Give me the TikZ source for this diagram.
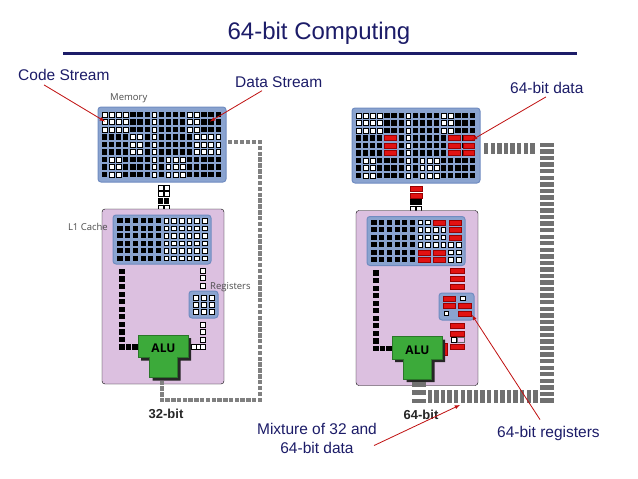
\documentclass[tikz,border=0pt]{standalone}
\usepackage{fontspec}
\setmainfont{Liberation Sans}
\newfontfamily\uifont{Open Sans}
\usepackage{tikz}
\usetikzlibrary{positioning, arrows}

\definecolor{navy}{RGB}{28,28,104}
\definecolor{membox}{RGB}{138,163,207}
\definecolor{memedge}{RGB}{112,140,193}
\definecolor{cpubox}{RGB}{220,192,224}
\definecolor{alugreen}{RGB}{60,170,58}
\definecolor{bitred}{RGB}{226,18,18}
\definecolor{busgray}{RGB}{128,128,128}
\definecolor{busdark}{RGB}{112,112,112}

% one bit cell, centred at (x,y)
\newcommand{\bitB}[2]{\fill[black] ({#1-2.6},{#2-2.6}) rectangle ++(5.2,5.2);}
\newcommand{\bitW}[2]{\filldraw[wbit] ({#1-2.3},{#2-2.3}) rectangle ++(4.6,4.6);}
\newcommand{\bitR}[3]{\filldraw[rbit] ({#1-#3/2},{#2-2.4}) rectangle ++(#3,4.8);}
\newcommand{\busB}[2]{\fill[busgray] ({#1-2.2},{#2-2.2}) rectangle ++(4.4,4.4);}

\begin{document}
\begin{tikzpicture}[x=1pt,y=-1pt,
  wbit/.style={draw=black, fill=white, line width=0.6pt},
  rbit/.style={draw=red!60!black, fill=bitred, line width=0.4pt},
  mem/.style={draw=memedge, fill=membox, line width=1pt, rounded corners=3pt},
  cpu/.style={fill=cpubox, rounded corners=3pt},
  alu/.style={draw=alugreen!70!black, fill=alugreen, line width=0.5pt},
  alushadow/.style={fill=black!85},
  alutext/.style={font=\uifont\bfseries\fontsize{12}{12}\selectfont},
  smalllabel/.style={font=\uifont\fontsize{9.5}{11}\selectfont, text=black!70, inner sep=0pt},
  label/.style={font=\fontsize{15.5}{19}\selectfont, text=navy, inner sep=0pt, align=center},
  bitslabel/.style={font=\bfseries\fontsize{13}{13}\selectfont, text=black!85, inner sep=0pt},
  redarrow/.style={draw=bitred!85!black, line width=0.8pt, -latex}]

\useasboundingbox (0,0) rectangle (638,479);
\fill[white] (0,0) rectangle (638,479);

% title
\node[font=\fontsize{24}{28}\selectfont, text=navy] (title) at (319,33) {64-bit Computing};
\draw[navy, line width=3pt] (63,53) -- (577,53);

%%% 32-bit side %%%
\node[smalllabel, anchor=west] (memlabel) at (110,98) {Memory};
\draw[mem] (98,107) rectangle (226,182);
\begin{scope}[shift={(98,107)}]
\foreach \r in {0,...,8} {\foreach \c in {0,...,16} {\bitB{6.5+7.1*\c}{7.5+7.5*\r}}}
\foreach \r in {0,1,2} {\foreach \c in {0,1,2,3,7,12,13} {\bitW{6.5+7.1*\c}{7.5+7.5*\r}}}
\foreach \r in {3,4,5} {\foreach \c in {4,5,7,13,14,15,16} {\bitW{6.5+7.1*\c}{7.5+7.5*\r}}}
\foreach \r in {6,7,8} {\foreach \c in {1,2,7,9,10,11} {\bitW{6.5+7.1*\c}{7.5+7.5*\r}}}
\end{scope}

% memory to cache
\foreach \x in {160.5,166.5} {
  \bitW{\x}{187.5} \bitW{\x}{194} \bitB{\x}{201} \bitW{\x}{207.5}
}

% processor
\draw[cpu] (102,209) rectangle (224,384);
\node[smalllabel, anchor=east] (cachelabel) at (108,226.5) {L1 Cache};
\draw[mem] (113,215) rectangle (211,264);
\begin{scope}[shift={(113,215)}]
\foreach \r in {0,...,5} {
  \foreach \c in {0,...,5} {\bitB{7+7.7*\c}{5.8+7.5*\r}}
  \foreach \c in {6,...,11} {\bitW{7+7.7*\c}{5.8+7.5*\r}}
}
\end{scope}

% code path
\foreach \i in {0,...,10} {\bitB{122}{271.5+7.55*\i}}
\bitB{128.5}{347} \bitB{135}{347}

% data path and registers
\foreach \y in {271,278,285.5,325,332,339.5,347} {\bitW{203}{\y}}
\bitW{193.5}{347} \bitW{198.3}{347}
\node[smalllabel, anchor=west] (reglabel) at (210,287.5) {Registers};
\draw[mem] (189,291) rectangle (218,318);
\foreach \x in {195.5,203.5,211.5} {\foreach \y in {297.5,304.5,311.5} {\bitW{\x}{\y}}}

% ALU
\begin{scope}[shift={(3,3)}]
\fill[alushadow] (138,335) -- (188,335) -- (188,357.5) -- (177.5,357.5) -- (177.5,377.5)
  -- (149.5,377.5) -- (149.5,357.5) -- (138,357.5) -- cycle;
\end{scope}
\filldraw[alu] (138,335) -- (188,335) -- (188,357.5) -- (177.5,357.5) -- (177.5,377.5)
  -- (149.5,377.5) -- (149.5,357.5) -- (138,357.5) -- cycle;
\node[alutext] (alu32) at (163.5,348.5) {ALU};

% memory bus
\foreach \x in {230,236,242,248,254} {\busB{\x}{142}}
\foreach \i in {0,...,44} {\busB{260}{142+5.86*\i}}
\foreach \i in {1,...,17} {\busB{260-5.78*\i}{400}}
\foreach \i in {1,2,3} {\busB{161.7}{400-5.7*\i}}

\node[bitslabel] (bits32) at (166,414) {32-bit};

%%% 64-bit side %%%
\draw[mem] (352,108) rectangle (480,183);
\begin{scope}[shift={(352,108)}]
\foreach \r in {0,...,8} {\foreach \c in {0,...,16} {\bitB{6.5+7.1*\c}{7.5+7.5*\r}}}
\foreach \r in {0,1,2} {\foreach \c in {0,1,2,3,7,12,13} {\bitW{6.5+7.1*\c}{7.5+7.5*\r}}}
\foreach \r in {3,4,5} {
  \bitW{6.5+7.1*7}{7.5+7.5*\r}
  \foreach \c in {4.5,13.5,15.5} {\bitR{6.5+7.1*\c}{7.5+7.5*\r}{11.6}}
}
\foreach \r in {6,7,8} {\foreach \c in {1,2,7,9,10,11} {\bitW{6.5+7.1*\c}{7.5+7.5*\r}}}
\end{scope}

% memory to cache
\bitR{416}{188.5}{12} \bitR{416}{195.5}{12}
\foreach \x in {413,419} {\bitB{\x}{202} \bitW{\x}{208.5}}

% processor
\draw[cpu] (356,210.5) rectangle (478,385.5);
\draw[mem] (367,216.5) rectangle (465,265.5);
\begin{scope}[shift={(367,216.5)}]
\foreach \r in {0,...,5} {\foreach \c in {0,...,5} {\bitB{7+7.7*\c}{5.8+7.5*\r}}}
\foreach \c in {6,7} {\bitW{7+7.7*\c}{5.8}}
\bitR{7+7.7*8.5}{5.8}{12} \bitR{7+7.7*10.5}{5.8}{12}
\foreach \r in {1,2} {
  \foreach \c in {6,...,9} {\bitW{7+7.7*\c}{5.8+7.5*\r}}
  \bitR{7+7.7*10.5}{5.8+7.5*\r}{12}
}
\foreach \c in {6,...,11} {\bitW{7+7.7*\c}{5.8+7.5*3}}
\foreach \r in {4,5} {
  \bitR{7+7.7*6.5}{5.8+7.5*\r}{12} \bitR{7+7.7*8.5}{5.8+7.5*\r}{12}
  \foreach \c in {10,11} {\bitW{7+7.7*\c}{5.8+7.5*\r}}
}
\end{scope}

% code path
\foreach \i in {0,...,10} {\bitB{376}{273+7.55*\i}}
\bitB{382.5}{348.5} \bitB{389}{348.5}

% data path and registers
\foreach \y in {271,279,287,326,333.3,346.7} {\bitR{457}{\y}{14}}
\bitW{453.7}{340}
\filldraw[draw=black!60, fill=cpubox!80!magenta!60!white, line width=0.4pt] (457,337.6) rectangle (464,342.4);
\filldraw[rbit] (443.3,343) rectangle (446.7,355);
\draw[mem] (439,293) rectangle (474,320);
\bitR{449.2}{298.3}{11.7} \bitW{463}{298.3}
\bitR{449.2}{306}{11.7} \bitR{464.8}{306}{13.7}
\bitW{446.2}{313.3} \bitR{464.8}{313.3}{13.7}

% ALU
\begin{scope}[shift={(257,4.5)}]
\fill[alushadow] (138,335) -- (188,335) -- (188,357.5) -- (177.5,357.5) -- (177.5,377.5)
  -- (149.5,377.5) -- (149.5,357.5) -- (138,357.5) -- cycle;
\end{scope}
\begin{scope}[shift={(254,1.5)}]
\filldraw[alu] (138,335) -- (188,335) -- (188,357.5) -- (177.5,357.5) -- (177.5,377.5)
  -- (149.5,377.5) -- (149.5,357.5) -- (138,357.5) -- cycle;
\end{scope}
\node[alutext] (alu64) at (417.5,350) {ALU};

% memory bus
\foreach \i in {0,...,7} {\fill[busdark] ({484+6.6*\i},143) rectangle ++(4.4,11);}
\foreach \i in {0,...,39} {\fill[busdark] (540,{142.8+6.55*\i}) rectangle ++(14,4.4);}
\foreach \i in {0,...,16} {\fill[busdark] ({427.5+6.6*\i},390) rectangle ++(4.4,13);}
\foreach \y in {382,390,398.5} {\fill[busdark] (412,\y) rectangle ++(14,4.6);}

\node[bitslabel] (bits64) at (421,415) {64-bit};

%%% labels and pointers %%%
\node[label, anchor=west] (codestream) at (18,75) {Code Stream};
\node[label, anchor=west] (datastream) at (235,82) {Data Stream};
\node[label, anchor=west] (data64) at (510,88) {64-bit data};
\node[label] (mixture) at (317,438.5) {Mixture of 32 and\\64-bit data};
\node[label, anchor=west] (regs64) at (497,433) {64-bit registers};

\coordinate (codetip) at (105,121.5);
\coordinate (datatip) at (210,121.5);
\coordinate (data64tip) at (472,140);
\coordinate (mixtip) at (460,405);
\coordinate (regs64tip) at (472,315);

\draw[redarrow] ([xshift=26pt,yshift=-4pt]codestream.south west) -- (codetip);
\draw[redarrow] ([xshift=27pt,yshift=-3pt]datastream.south west) -- (datatip);
\draw[redarrow] ([xshift=36pt,yshift=-3pt]data64.south west) -- (data64tip);
\draw[redarrow] ([xshift=-3pt,yshift=-7pt]mixture.east) -- (mixtip);
\draw[redarrow] ([xshift=43pt,yshift=6pt]regs64.north west) -- (regs64tip);
\end{tikzpicture}
\end{document}
